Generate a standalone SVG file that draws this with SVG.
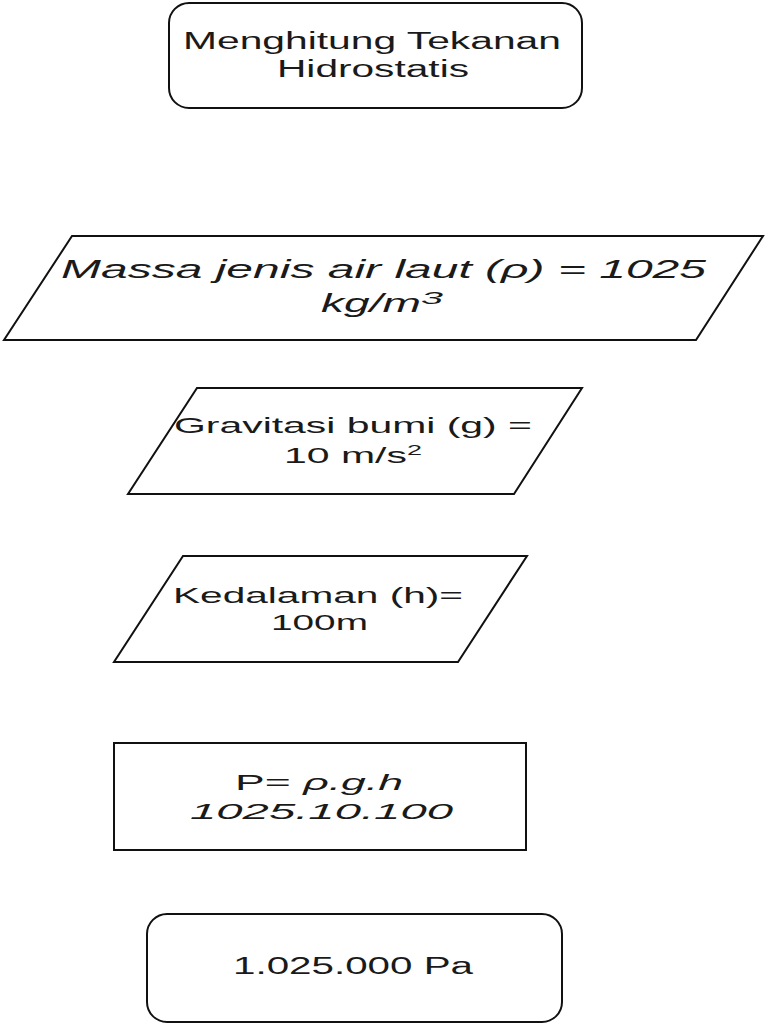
<svg xmlns="http://www.w3.org/2000/svg" width="768" height="1024" viewBox="0 0 768 1024">
<style>
.shape{fill:#fff;stroke:#111;stroke-width:2}
.t{font-family:"Liberation Sans",Arial,sans-serif;fill:#1a1a1a;font-size:22px}
.i{font-style:italic}
.sup{font-family:"Liberation Sans",Arial,sans-serif;fill:#1a1a1a;font-size:15px}
</style>
<rect width="768" height="1024" fill="#fff"/>
<g id="start">
<rect class="shape" x="169" y="3" width="413" height="105" rx="20" ry="20"/>
<text class="t" x="183" y="49" style="font-size:23px" textLength="378" lengthAdjust="spacingAndGlyphs">Menghitung Tekanan</text>
<text class="t" x="277" y="77" style="font-size:23px" textLength="192" lengthAdjust="spacingAndGlyphs">Hidrostatis</text>
</g>
<g id="input-rho">
<polygon class="shape" points="72,236 763,236 696,340 4,340"/>
<text class="t i" x="61" y="278" style="font-size:25.5px" textLength="645" lengthAdjust="spacingAndGlyphs">Massa jenis air laut (ρ) = 1025</text>
<text class="t i" x="321" y="312" style="font-size:25.5px" textLength="100" lengthAdjust="spacingAndGlyphs">kg/m</text>
<text class="sup i" x="421" y="304" style="font-size:17px" textLength="22" lengthAdjust="spacingAndGlyphs">3</text>
</g>
<g id="input-g">
<polygon class="shape" points="197,388 582,388 514,494 128,494"/>
<text class="t" x="174" y="433" textLength="358" lengthAdjust="spacingAndGlyphs">Gravitasi bumi (g) =</text>
<text class="t" x="284" y="463" textLength="123" lengthAdjust="spacingAndGlyphs">10 m/s</text>
<text class="sup" x="407" y="455" textLength="15" lengthAdjust="spacingAndGlyphs">2</text>
</g>
<g id="input-h">
<polygon class="shape" points="183,556 527,556 458,662 114,662"/>
<text class="t" x="173" y="603" textLength="290" lengthAdjust="spacingAndGlyphs">Kedalaman (h)=</text>
<text class="t" x="271" y="630" textLength="97" lengthAdjust="spacingAndGlyphs">100m</text>
</g>
<g id="process">
<rect class="shape" x="114" y="743" width="412" height="107"/>
<text class="t" x="235" y="790" textLength="168" lengthAdjust="spacingAndGlyphs">P= <tspan class="i">ρ.g.h</tspan></text>
<text class="t i" x="190" y="819" textLength="263" lengthAdjust="spacingAndGlyphs">1025.10.100</text>
</g>
<g id="end">
<rect class="shape" x="147" y="914" width="415" height="108" rx="20" ry="20"/>
<text class="t" x="233" y="974" style="font-size:23px" textLength="240" lengthAdjust="spacingAndGlyphs">1.025.000 Pa</text>
</g>
<g id="connectors"></g>
</svg>
